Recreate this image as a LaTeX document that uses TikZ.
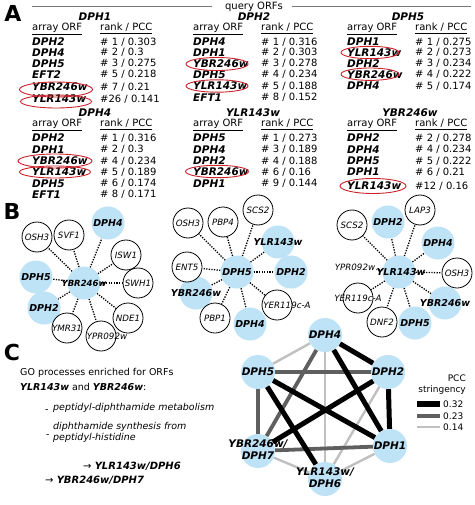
\documentclass[tikz,border=0pt]{standalone}
\usepackage{fontspec}
\setmainfont{DejaVu Sans}
\usetikzlibrary{backgrounds}
\definecolor{nodeblue}{RGB}{190,226,246}
\definecolor{ringred}{RGB}{205,35,45}
\definecolor{edgedark}{RGB}{95,95,95}
\definecolor{edgelight}{RGB}{192,192,192}
\definecolor{rulegray}{RGB}{120,120,120}
\newcommand{\trow}[6]{%
  \node[gene] (#1) at (#2,#4) {#5};
  \node[rankt] (#1r) at (#3,#4) {#6};}
\newcommand{\zb}[1]{\makebox[0pt]{#1}}
\tikzset{
  gene/.style={anchor=west, inner sep=0pt, font=\fontsize{10.5}{12}\selectfont\bfseries\itshape, text height=7.5pt, text depth=0pt},
  rankt/.style={anchor=west, inner sep=0pt, font=\fontsize{10}{12}\selectfont, text height=7.3pt, text depth=0pt},
  ghead/.style={inner sep=0pt, font=\fontsize{10.5}{12}\selectfont\bfseries\itshape, text height=7.5pt, text depth=0pt},
  colh/.style={anchor=west, inner sep=0pt, font=\fontsize{10}{12}\selectfont, text height=7.3pt, text depth=0pt},
  ring/.style={draw=ringred, line width=0.9pt},
  panel/.style={inner sep=0pt, font=\fontsize{22}{24}\selectfont\bfseries},
  bnode/.style={circle, fill=nodeblue, minimum size=33pt, inner sep=0pt, font=\fontsize{9.5}{10}\selectfont\bfseries\itshape},
  wnode/.style={circle, draw=black, line width=0.8pt, fill=white, minimum size=30pt, inner sep=0pt, font=\fontsize{8.7}{10}\selectfont\itshape},
  tnode/.style={inner sep=1pt, font=\fontsize{8.7}{10}\selectfont\itshape},
  dotedge/.style={line width=1.3pt, dash pattern=on 1.3pt off 1.3pt},
  cnode/.style={circle, fill=nodeblue, minimum size=34pt, inner sep=0pt, font=\fontsize{10.5}{11.5}\selectfont\bfseries\itshape},
  cblack/.style={line width=5pt, draw=black},
  cdark/.style={line width=3.8pt, draw=edgedark},
  clight/.style={line width=2.4pt, draw=edgelight},
  ctext/.style={anchor=west, inner sep=0pt, font=\fontsize{9.5}{11}\selectfont, text height=7pt, text depth=0pt},
  ltext/.style={inner sep=0pt, font=\fontsize{9}{10}\selectfont, text height=6.6pt, text depth=0pt}
}
\begin{document}
\begin{tikzpicture}[x=1pt,y=-1pt]
\useasboundingbox (0,0) rectangle (474,505);
\begin{scope}[on background layer]
\fill[white] (0,0) rectangle (474,505);
\end{scope}

% ---------------- Panel A ----------------
\node[panel] (pA) at (13,13) {A};
\node[colh, anchor=center] (qo) at (254,6) {query ORFs};
\coordinate (r1a) at (32,6); \coordinate (r1b) at (212,6);
\coordinate (r2a) at (292,6); \coordinate (r2b) at (471,6);
\draw[rulegray, line width=0.9pt] (r1a) -- (r1b);
\draw[rulegray, line width=0.9pt] (r2a) -- (r2b);

% group 1: DPH1
\node[ghead] (h1) at (95,17) {DPH1};
\node[colh] (a1) at (32,27) {\underline{array ORF}};
\node[colh] (b1) at (100,27) {\underline{rank / PCC}};
\trow{g1a}{32}{100}{41.7}{DPH2}{\# 1 / 0.303}
\trow{g1b}{32}{100}{52.3}{DPH4}{\# 2 / 0.3}
\trow{g1c}{32}{100}{63.3}{DPH5}{\# 3 / 0.275}
\trow{g1d}{32}{100}{74.3}{EFT2}{\# 5 / 0.218}
\trow{g1e}{32}{100}{86.8}{YBR246w}{\# 7 / 0.21}
\trow{g1f}{32}{100}{99}{YLR143w}{\#26 / 0.141}
\draw[ring] (56,89.5) ellipse [x radius=36.5pt, y radius=7.5pt];
\draw[ring] (56,101.5) ellipse [x radius=35.5pt, y radius=6.5pt];

% group 2: DPH2
\node[ghead] (h2) at (254,17) {DPH2};
\node[colh] (a2) at (193,27) {\underline{array ORF}};
\node[colh] (b2) at (261,27) {\underline{rank / PCC}};
\trow{g2a}{193}{261}{41.7}{DPH4}{\# 1 / 0.316}
\trow{g2b}{193}{261}{52.3}{DPH1}{\# 2 / 0.303}
\trow{g2c}{193}{261}{63.3}{YBR246w}{\# 3 / 0.278}
\trow{g2d}{193}{261}{74.3}{DPH5}{\# 4 / 0.234}
\trow{g2e}{193}{261}{85.8}{YLR143w}{\# 5 / 0.188}
\trow{g2f}{193}{261}{97.3}{EFT1}{\# 8 / 0.152}
\draw[ring] (217,64) ellipse [x radius=31pt, y radius=6.5pt];
\draw[ring] (217,86) ellipse [x radius=31pt, y radius=6.2pt];

% group 3: DPH5
\node[ghead] (h3) at (408,17) {DPH5};
\node[colh] (a3) at (347,27) {\underline{array ORF}};
\node[colh] (b3) at (415,27) {\underline{rank / PCC}};
\trow{g3a}{347}{415}{41.7}{DPH1}{\# 1 / 0.275}
\trow{g3b}{347}{415}{52.3}{YLR143w}{\# 2 / 0.273}
\trow{g3c}{347}{415}{63.3}{DPH2}{\# 3 / 0.234}
\trow{g3d}{347}{415}{74.3}{YBR246w}{\# 4 / 0.222}
\trow{g3e}{347}{415}{85.8}{DPH4}{\# 5 / 0.174}
\draw[ring] (370,52.5) ellipse [x radius=29pt, y radius=6.2pt];
\draw[ring] (370,74.2) ellipse [x radius=29pt, y radius=6.2pt];

% group 4: DPH4
\node[ghead] (h4) at (95,113) {DPH4};
\node[colh] (a4) at (32,123) {\underline{array ORF}};
\node[colh] (b4) at (100,123) {\underline{rank / PCC}};
\trow{g4a}{32}{100}{137.7}{DPH2}{\# 1 / 0.316}
\trow{g4b}{32}{100}{149.3}{DPH1}{\# 2 / 0.3}
\trow{g4c}{32}{100}{160.7}{YBR246w}{\# 4 / 0.234}
\trow{g4d}{32}{100}{171.7}{YLR143w}{\# 5 / 0.189}
\trow{g4e}{32}{100}{183.3}{DPH5}{\# 6 / 0.174}
\trow{g4f}{32}{100}{194.3}{EFT1}{\# 8 / 0.171}
\draw[ring] (55,161) ellipse [x radius=37pt, y radius=7pt];
\draw[ring] (55,172) ellipse [x radius=35.5pt, y radius=6pt];

% group 5: YLR143w
\node[ghead] (h5) at (253,113) {YLR143w};
\node[colh] (a5) at (193,123) {\underline{array ORF}};
\node[colh] (b5) at (261,123) {\underline{rank / PCC}};
\trow{g5a}{193}{261}{137.7}{DPH5}{\# 1 / 0.273}
\trow{g5b}{193}{261}{149.3}{DPH4}{\# 3 / 0.189}
\trow{g5c}{193}{261}{160.7}{DPH2}{\# 4 / 0.188}
\trow{g5d}{193}{261}{171.7}{YBR246w}{\# 6 / 0.16}
\trow{g5e}{193}{261}{183.3}{DPH1}{\# 9 / 0.144}
\draw[ring] (217,171.5) ellipse [x radius=31.5pt, y radius=6.2pt];

% group 6: YBR246w
\node[ghead] (h6) at (410,113) {YBR246w};
\node[colh] (a6) at (347,123) {\underline{array ORF}};
\node[colh] (b6) at (415,123) {\underline{rank / PCC}};
\trow{g6a}{347}{415}{137.7}{DPH2}{\# 2 / 0.278}
\trow{g6b}{347}{415}{149.3}{DPH4}{\# 4 / 0.234}
\trow{g6c}{347}{415}{160.7}{DPH5}{\# 5 / 0.222}
\trow{g6d}{347}{415}{171.7}{DPH1}{\# 6 / 0.21}
\trow{g6e}{347}{415}{185.7}{YLR143w}{\#12 / 0.16}
\draw[ring] (373,186) ellipse [x radius=33pt, y radius=7.5pt];

% ---------------- Panel B ----------------
\node[panel] (pB) at (12,211) {B};

% network 1
\node[bnode, font=\fontsize{8.5}{10}\selectfont\bfseries\itshape] (c1) at (84,283) {\zb{YBR246w}};
\node[bnode] (n1d4) at (108,223) {DPH4};
\node[bnode] (n1d2) at (44,308) {DPH2};
\node[bnode] (n1d5) at (36,277) {DPH5};
\node[wnode] (n1osh) at (37,237) {OSH3};
\node[wnode] (n1svf) at (69,235) {SVF1};
\node[wnode] (n1isw) at (126,255) {ISW1};
\node[wnode] (n1swh) at (138,283) {SWH1};
\node[wnode] (n1nde) at (128,318) {NDE1};
\node[wnode] (n1ymr) at (67,328) {\zb{\raisebox{-3pt}{YMR31}}};
\node[wnode] (n1ypr) at (101,336) {\zb{\hspace*{12pt}YPR092w}};
\begin{scope}[on background layer]
\foreach \t in {n1d4,n1d2,n1d5,n1osh,n1svf,n1isw,n1swh,n1nde,n1ymr,n1ypr}
  \draw[dotedge] (c1) -- (\t);
\end{scope}

% network 2
\node[bnode] (c2) at (237,272) {DPH5};
\node[bnode] (n2ylr) at (278,242) {\zb{YLR143w}};
\node[bnode] (n2d2) at (291,272) {DPH2};
\node[bnode] (n2d4) at (250,324) {DPH4};
\node[bnode] (n2ybr) at (196,293) {\zb{\raisebox{-4pt}{YBR246w}}};
\node[wnode] (n2osh) at (188,223) {OSH3};
\node[wnode] (n2pbp4) at (223,222) {PBP4};
\node[wnode] (n2scs) at (258,210) {SCS2};
\node[wnode] (n2yer) at (277,305) {\zb{\hspace*{20pt}YER119c-A}};
\node[wnode] (n2pbp1) at (215,318) {PBP1};
\node[wnode] (n2ent) at (187,267) {ENT5};
\begin{scope}[on background layer]
\foreach \t in {n2ylr,n2d2,n2d4,n2ybr,n2osh,n2pbp4,n2scs,n2yer,n2pbp1,n2ent}
  \draw[dotedge] (c2) -- (\t);
\end{scope}

% network 3
\node[bnode] (c3) at (399,272) {\zb{\hspace*{4pt}YLR143w}};
\node[bnode] (n3d2) at (388,222) {DPH2};
\node[bnode] (n3d4) at (438,243) {DPH4};
\node[bnode] (n3ybr) at (445,303) {\zb{\raisebox{-3pt}{YBR246w}}};
\node[bnode] (n3d5) at (415,323) {\zb{\raisebox{-3pt}{DPH5}}};
\node[wnode] (n3scs) at (352,225) {SCS2};
\node[wnode] (n3lap) at (420,210) {LAP3};
\node[wnode] (n3osh) at (457,273) {OSH3};
\node[wnode] (n3dnf) at (382,322) {DNF2};
\node[wnode] (n3yer) at (358,298) {\zb{YER119c-A}};
\node[tnode] (n3ypr) at (355,267) {YPR092w};
\begin{scope}[on background layer]
\foreach \t in {n3d2,n3d4,n3ybr,n3d5,n3scs,n3lap,n3osh,n3dnf,n3yer,n3ypr}
  \draw[dotedge] (c3) -- (\t);
\end{scope}

% ---------------- Panel C ----------------
\node[panel] (pC) at (12,352) {C};
\node[ctext] (go1) at (20,372) {GO processes enriched for ORFs};
\node[ctext] (go2) at (20,387) {\textbf{\textit{YLR143w}} and \textbf{\textit{YBR246w}}:};
\node[ctext] (d1) at (45,409) {-};
\node[ctext] (p1) at (53,407) {\itshape peptidyl-diphthamide metabolism};
\node[ctext] (d2) at (46,434) {-};
\node[ctext] (p2) at (53,426) {\itshape diphthamide synthesis from};
\node[ctext] (p3) at (53,436.5) {\itshape peptidyl-histidine};
\node[ctext, font=\fontsize{10}{11}\selectfont] (ar1) at (83,465.7) {→ \textbf{\textit{YLR143w/DPH6}}};
\node[ctext, font=\fontsize{10}{11}\selectfont] (ar2) at (45,480) {→ \textbf{\textit{YBR246w/DPH7}}};

% network C
\node[cnode] (k4) at (325,335) {DPH4};
\node[cnode] (k2) at (388,372) {DPH2};
\node[cnode] (k1) at (390,446) {DPH1};
\node[cnode] (k5) at (258,372) {DPH5};
\node[cnode] (k6) at (325,479) {\zb{\begin{tabular}{@{}c@{}}YLR143w/\\DPH6\end{tabular}}};
\node[cnode] (k7) at (258,451) {\zb{\begin{tabular}{@{}c@{}}YBR246w/\\DPH7\end{tabular}}};
\begin{scope}[on background layer]
\draw[clight] (k4) -- (k5);
\draw[clight] (k4) -- (k6);
\draw[clight] (k2) -- (k6);
\draw[clight] (k1) -- (k6);
\draw[clight] (k7) -- (k6);
\draw[cdark] (k4) -- (k7);
\draw[cdark] (k5) -- (k2);
\draw[cdark] (k5) -- (k7);
\draw[cdark] (k1) -- (k7);
\draw[cblack] (k4) -- (k2);
\draw[cblack] (k4) -- (k1);
\draw[cblack] (k5) -- (k1);
\draw[cblack] (k5) -- (k6);
\draw[cblack] (k2) -- (k1);
\draw[cblack] (k2) -- (k7);
\end{scope}

% legend
\node[ltext, anchor=east] (lg1) at (466,378) {PCC};
\node[ltext, anchor=east] (lg2) at (466,389.5) {stringency};
\coordinate (la1) at (417,404); \coordinate (lb1) at (440,404);
\coordinate (la2) at (417,416); \coordinate (lb2) at (440,416);
\coordinate (la3) at (417,427); \coordinate (lb3) at (440,427);
\draw[cblack, line width=5.5pt] (la1) -- (lb1);
\draw[cdark] (la2) -- (lb2);
\draw[clight] (la3) -- (lb3);
\node[ltext, anchor=west] (lv1) at (443,404) {0.32};
\node[ltext, anchor=west] (lv2) at (443,416) {0.23};
\node[ltext, anchor=west] (lv3) at (443,427) {0.14};
\end{tikzpicture}
\end{document}
